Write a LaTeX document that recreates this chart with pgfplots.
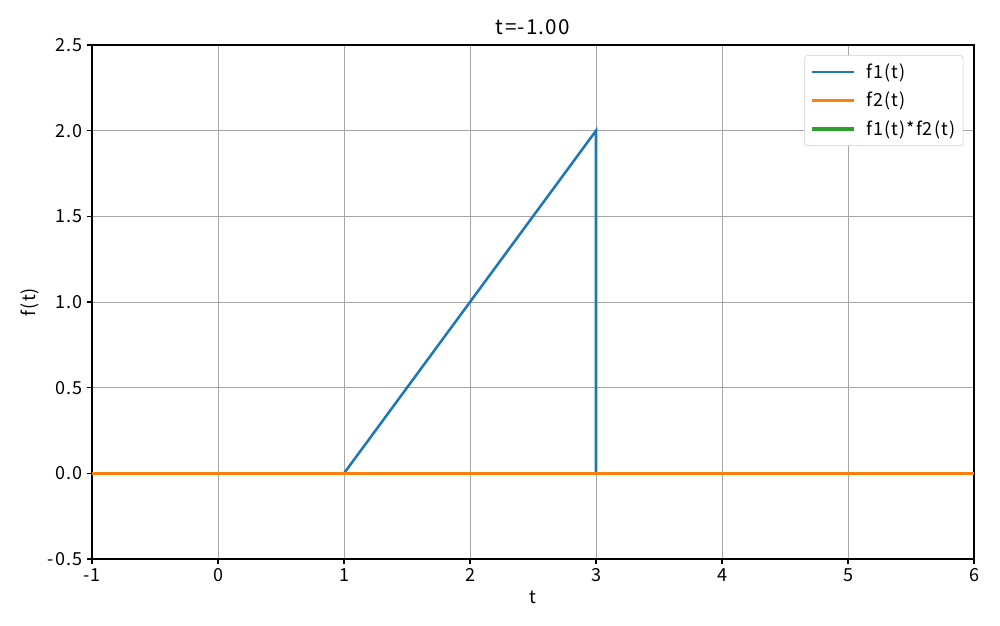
\documentclass[border=0pt]{standalone}
\usepackage{pgfplots}
\pgfplotsset{compat=1.18}
\usepackage{fontspec}
\setmainfont{Noto Sans CJK SC}[LetterSpace=6]
\usetikzlibrary{calc}
\definecolor{c1}{HTML}{1F77B4}
\definecolor{c2}{HTML}{FF7F0E}
\definecolor{c3}{HTML}{2CA02C}
\begin{document}
\begin{tikzpicture}[x=1pt,y=1pt]
\begin{axis}[
  scale only axis,
  width=661.5pt, height=385.5pt,
  xmin=-1, xmax=6, ymin=-0.5, ymax=2.5,
  xtick={-1,0,...,6},
  ytick={-0.5,0,0.5,1,1.5,2,2.5},
  yticklabel style={/pgf/number format/.cd,fixed,fixed zerofill,precision=1},
  /pgf/number format/assume math mode=true,
  tick label style={font=\fontsize{13.5}{16}\selectfont},
  label style={font=\fontsize{13.5}{16}\selectfont},
  title style={font=\fontsize{15.5}{18}\selectfont, yshift=-2pt},
  title={t=-1.00},
  xlabel={t}, ylabel={f(t)},
  grid=major,
  major grid style={color=black!35, line width=0.6pt},
  axis line style={black, line width=0.8pt},
  tick align=outside,
  major tick length=3.75pt,
  tick style={black, line width=0.8pt},
  xtick pos=bottom, ytick pos=left,
  legend style={font=\fontsize{13.5}{15}\selectfont, draw=black!20, rounded corners=2pt, at={(0.988,0.98)}, anchor=north east, row sep=5pt, column sep=6pt, inner sep=4pt},
  legend cell align=left,
  legend image code/.code={\draw[#1] (0pt,0pt) -- (31.5pt,0pt);},
]
\addplot[c1, line width=1.9pt] coordinates {(-1,0) (1,0) (3,2) (3,0) (6,0)};
\addlegendentry{f1(t)}
\addplot[c2, line width=1.9pt] coordinates {(-1,0) (6,0)};
\addlegendentry{f2(t)}
\addlegendimage{c3, line width=2.8pt}
\addlegendentry{f1(t)*f2(t)}
\end{axis}
\path ($(current axis.south west)+(-69pt,-49.5pt)$) rectangle ($(current axis.north east)+(19.5pt,33.75pt)$);
\end{tikzpicture}
\end{document}
